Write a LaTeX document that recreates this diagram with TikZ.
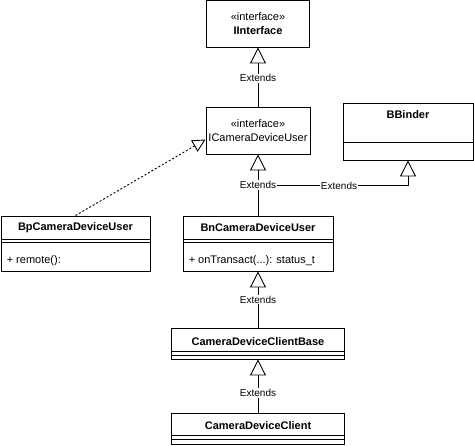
\documentclass[tikz,border=0pt]{standalone}
\usepackage{fontspec}
\setmainfont{Liberation Sans}
\usepackage{tikz}
\usetikzlibrary{arrows.meta}
\tikzstyle{umlclass} = [draw, rectangle, fill=white, inner sep=0pt, line width=0.9pt, align=center, font=\fontsize{11}{14}\selectfont]
\tikzstyle{classname} = [inner sep=0pt, font=\fontsize{11}{14}\selectfont\bfseries]
\tikzstyle{member} = [inner sep=0pt, anchor=west, font=\fontsize{11}{14}\selectfont]
\tikzstyle{divider} = [draw, line width=0.9pt]
\tikzstyle{extends} = [draw, line width=0.9pt, -{Triangle[open, length=16pt, width=16pt]}]
\tikzstyle{realizes} = [draw, line width=0.9pt, dash pattern=on 2pt off 2pt, -{Triangle[open, length=13pt, width=13pt]}]
\tikzstyle{tag} = [fill=white, inner sep=1pt, font=\fontsize{10}{12}\selectfont]

\begin{document}
\begin{tikzpicture}[x=1pt, y=-1pt]
    \useasboundingbox (0,0) rectangle (474,446);
    % interfaces
    \node (IInterface) [umlclass, minimum width=103pt, minimum height=47pt] at (258,23.5) {«interface»\\\textbf{IInterface}};
    \node (ICDU) [umlclass, minimum width=104pt, minimum height=47pt] at (258,130.5) {«interface»\\ICameraDeviceUser};
    % BBinder
    \node (BBinder) [umlclass, minimum width=130pt, minimum height=57pt] at (408,131.5) {};
    \node (BBinderName) [classname] at ([yshift=-12pt]BBinder.north) {BBinder};
    \draw[divider] ([yshift=-40pt]BBinder.north west) -- ([yshift=-40pt]BBinder.north east);
    % proxy and native sides
    \node (Bp) [umlclass, minimum width=149pt, minimum height=55pt] at (75.5,243.5) {};
    \node (BpName) [classname] at ([yshift=-12pt]Bp.north) {BpCameraDeviceUser};
    \draw[divider] ([yshift=-24pt]Bp.north west) -- ([yshift=-24pt]Bp.north east)
        ([yshift=-27pt]Bp.north west) -- ([yshift=-27pt]Bp.north east);
    \node (BpOp) [member] at ([xshift=6pt, yshift=-45pt]Bp.north west) {+ remote():};
    \node (Bn) [umlclass, minimum width=150pt, minimum height=55pt] at (258,243.5) {};
    \node (BnName) [classname] at ([yshift=-12pt]Bn.north) {BnCameraDeviceUser};
    \draw[divider] ([yshift=-24pt]Bn.north west) -- ([yshift=-24pt]Bn.north east)
        ([yshift=-27pt]Bn.north west) -- ([yshift=-27pt]Bn.north east);
    \node (BnOp) [member] at ([xshift=6pt, yshift=-45pt]Bn.north west) {+ onTransact(...): status\_t};
    % clients
    \node (CDCB) [umlclass, minimum width=173pt, minimum height=31pt] at (258,343.5) {};
    \node (CDCBName) [classname] at ([yshift=-14pt]CDCB.north) {CameraDeviceClientBase};
    \draw[divider] ([yshift=-24pt]CDCB.north west) -- ([yshift=-24pt]CDCB.north east)
        ([yshift=-27.5pt]CDCB.north west) -- ([yshift=-27.5pt]CDCB.north east);
    \node (CDC) [umlclass, minimum width=173pt, minimum height=31pt] at (258,428.5) {};
    \node (CDCName) [classname] at ([yshift=-13pt]CDC.north) {CameraDeviceClient};
    \draw[divider] ([yshift=-23pt]CDC.north west) -- ([yshift=-23pt]CDC.north east)
        ([yshift=-26.5pt]CDC.north west) -- ([yshift=-26.5pt]CDC.north east);
    % connectors
    \draw[extends] (Bn.north) -- ++(0,-30) -| node[tag, pos=0.27] {Extends} (BBinder.south);
    \draw[extends] (ICDU) -- node[tag, pos=0.48] {Extends} (IInterface);
    \draw[extends] (Bn) -- node[tag, pos=0.5] {Extends} (ICDU);
    \draw[extends] (CDCB) -- node[tag, pos=0.5] {Extends} (Bn);
    \draw[extends] (CDC) -- node[tag, pos=0.37] {Extends} (CDCB);
    \draw[realizes] (Bp.north) -- ([yshift=-9pt]ICDU.west);
\end{tikzpicture}
\end{document}
